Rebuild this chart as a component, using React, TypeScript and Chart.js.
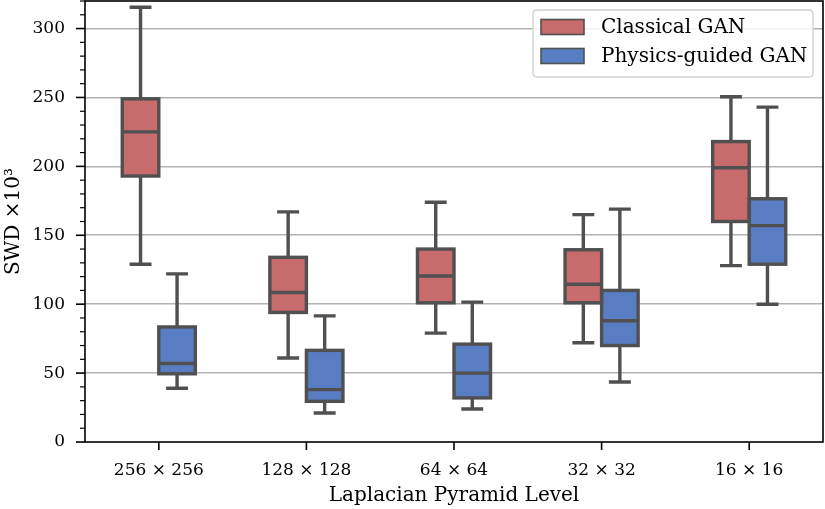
import React, { useEffect, useRef } from "react";
import { Chart, registerables } from "chart.js";

Chart.register(...registerables);

const categories = ["256 × 256", "128 × 128", "64 × 64", "32 × 32", "16 × 16"];
const seriesNames = ["Classical GAN", "Physics-guided GAN"];

const classicalMin = [129, 61, 79, 72, 128];
const classicalQ1 = [193, 94, 101, 101, 160];
const classicalMedian = [225, 108.5, 120.5, 114.5, 199];
const classicalQ3 = [249, 134, 140, 139.5, 218];
const classicalMax = [315.5, 167, 174, 165, 250.5];

const physicsMin = [39, 21, 24, 43.5, 100];
const physicsQ1 = [49.5, 29.5, 32, 70, 129];
const physicsMedian = [57, 38, 50, 88, 157];
const physicsQ3 = [83.5, 66.5, 71, 110, 176.5];
const physicsMax = [122, 91.5, 101.5, 169, 243];

const yTicksMajor = [0, 50, 100, 150, 200, 250, 300];

const RED = "#c76b6c";
const BLUE = "#587dc3";
const LINE = "#505050";
const LW = 3.4;
const FONT = "'DejaVu Serif', serif";

const stats = [
  { min: classicalMin, q1: classicalQ1, med: classicalMedian, q3: classicalQ3, max: classicalMax },
  { min: physicsMin, q1: physicsQ1, med: physicsMedian, q3: physicsQ3, max: physicsMax },
];

const boxPlugin = {
  id: "boxWhiskers",
  afterDatasetsDraw(chart: any) {
    const ctx = chart.ctx;
    const y = chart.scales.y;
    ctx.save();
    ctx.strokeStyle = LINE;
    ctx.lineWidth = LW;
    ctx.lineCap = "butt";
    ctx.lineJoin = "miter";
    stats.forEach((s, d) => {
      const meta = chart.getDatasetMeta(d);
      meta.data.forEach((bar: any, i: number) => {
        const { x, width } = bar.getProps(["x", "width"], true);
        const cw = width * 0.6;
        const pMin = y.getPixelForValue(s.min[i]);
        const pQ1 = y.getPixelForValue(s.q1[i]);
        const pMed = y.getPixelForValue(s.med[i]);
        const pQ3 = y.getPixelForValue(s.q3[i]);
        const pMax = y.getPixelForValue(s.max[i]);
        ctx.beginPath();
        ctx.moveTo(x, pQ3);
        ctx.lineTo(x, pMax);
        ctx.moveTo(x - cw / 2, pMax);
        ctx.lineTo(x + cw / 2, pMax);
        ctx.moveTo(x, pQ1);
        ctx.lineTo(x, pMin);
        ctx.moveTo(x - cw / 2, pMin);
        ctx.lineTo(x + cw / 2, pMin);
        ctx.moveTo(x - width / 2, pMed);
        ctx.lineTo(x + width / 2, pMed);
        ctx.stroke();
        ctx.strokeRect(x - width / 2, pQ3, width, pQ1 - pQ3);
      });
    });
    ctx.restore();
  },
  afterDraw(chart: any) {
    const ctx = chart.ctx;
    const a = chart.chartArea;
    const y = chart.scales.y;
    const xs = chart.scales.x;
    ctx.save();
    ctx.strokeStyle = "#000";
    ctx.lineWidth = 1.6;
    ctx.strokeRect(a.left, a.top, a.right - a.left, a.bottom - a.top);
    y.ticks.forEach((t: any) => {
      const py = y.getPixelForValue(t.value);
      const major = yTicksMajor.includes(t.value);
      ctx.lineWidth = major ? 1.6 : 1.2;
      ctx.beginPath();
      ctx.moveTo(a.left, py);
      ctx.lineTo(a.left - (major ? 9 : 5), py);
      ctx.stroke();
    });
    ctx.lineWidth = 1.6;
    categories.forEach((_c, i) => {
      const px = xs.getPixelForValue(i);
      ctx.beginPath();
      ctx.moveTo(px, a.bottom);
      ctx.lineTo(px, a.bottom + 8);
      ctx.stroke();
    });
    const lx = 533, ly = 10, lw = 280, lh = 67, r = 4;
    ctx.beginPath();
    ctx.moveTo(lx + r, ly);
    ctx.lineTo(lx + lw - r, ly);
    ctx.quadraticCurveTo(lx + lw, ly, lx + lw, ly + r);
    ctx.lineTo(lx + lw, ly + lh - r);
    ctx.quadraticCurveTo(lx + lw, ly + lh, lx + lw - r, ly + lh);
    ctx.lineTo(lx + r, ly + lh);
    ctx.quadraticCurveTo(lx, ly + lh, lx, ly + lh - r);
    ctx.lineTo(lx, ly + r);
    ctx.quadraticCurveTo(lx, ly, lx + r, ly);
    ctx.closePath();
    ctx.fillStyle = "rgba(255,255,255,0.85)";
    ctx.fill();
    ctx.strokeStyle = "#d0d0d0";
    ctx.lineWidth = 1.3;
    ctx.stroke();
    const colors = [RED, BLUE];
    const rowsY = [27, 56];
    chart.data.datasets.forEach((ds: any, k: number) => {
      const cy = rowsY[k];
      ctx.fillStyle = colors[k];
      ctx.fillRect(541, cy - 7.5, 43, 15);
      ctx.strokeStyle = LINE;
      ctx.lineWidth = 1.6;
      ctx.strokeRect(541, cy - 7.5, 43, 15);
      ctx.fillStyle = "#000";
      ctx.font = `20px ${FONT}`;
      ctx.textBaseline = "middle";
      ctx.textAlign = "left";
      ctx.fillText(ds.label, 601, cy + 1);
    });
    ctx.restore();
  },
};

export default function App() {
  const ref = useRef<HTMLCanvasElement | null>(null);
  useEffect(() => {
    document.body.style.margin = "0";
    if (!ref.current) return;
    const chart = new Chart(ref.current, {
      type: "bar",
      data: {
        labels: categories,
        datasets: [
          {
            label: seriesNames[0],
            data: classicalQ1.map((v, i) => [v, classicalQ3[i]]),
            backgroundColor: RED,
            borderWidth: 0,
            categoryPercentage: 0.495,
            barPercentage: 1,
          },
          {
            label: seriesNames[1],
            data: physicsQ1.map((v, i) => [v, physicsQ3[i]]),
            backgroundColor: BLUE,
            borderWidth: 0,
            categoryPercentage: 0.495,
            barPercentage: 1,
          },
        ] as any,
      },
      options: {
        responsive: false,
        animation: false,
        layout: { padding: { top: 1, right: 2, left: 0, bottom: 0 } },
        plugins: { legend: { display: false }, tooltip: { enabled: false } },
        scales: {
          x: {
            grid: { display: false, drawTicks: false },
            border: { display: false },
            ticks: { color: "#000", font: { family: FONT, size: 17 }, padding: 18 },
            title: {
              display: true,
              text: "Laplacian Pyramid Level",
              color: "#000",
              font: { family: FONT, size: 20 },
              padding: { top: 0, bottom: 1 },
            },
            afterFit: (s: any) => {
              s.height = 67;
              s.paddingLeft = 0;
              s.paddingRight = 0;
            },
          },
          y: {
            min: 0,
            max: 320,
            grid: {
              drawTicks: false,
              lineWidth: 1.6,
              color: (c: any) =>
                c.tick && c.tick.value > 0 && c.tick.value % 50 === 0 ? "#b3b3b3" : "rgba(0,0,0,0)",
            },
            border: { display: false },
            ticks: {
              stepSize: 10,
              autoSkip: false,
              color: "#000",
              font: { family: FONT, size: 17 },
              padding: 20,
              callback: (v: any) => (yTicksMajor.includes(Number(v)) ? String(v) : ""),
            },
            title: {
              display: true,
              text: "SWD ×10³",
              color: "#000",
              font: { family: FONT, size: 20 },
              padding: { top: 2, bottom: 0 },
            },
            afterFit: (s: any) => {
              s.width = 85;
              s.paddingTop = 0;
              s.paddingBottom = 0;
            },
          },
        },
      },
      plugins: [boxPlugin],
    });
    return () => chart.destroy();
  }, []);
  return (
    <div style={{ width: 825, height: 509 }}>
      <canvas ref={ref} width={825} height={509} />
    </div>
  );
}
